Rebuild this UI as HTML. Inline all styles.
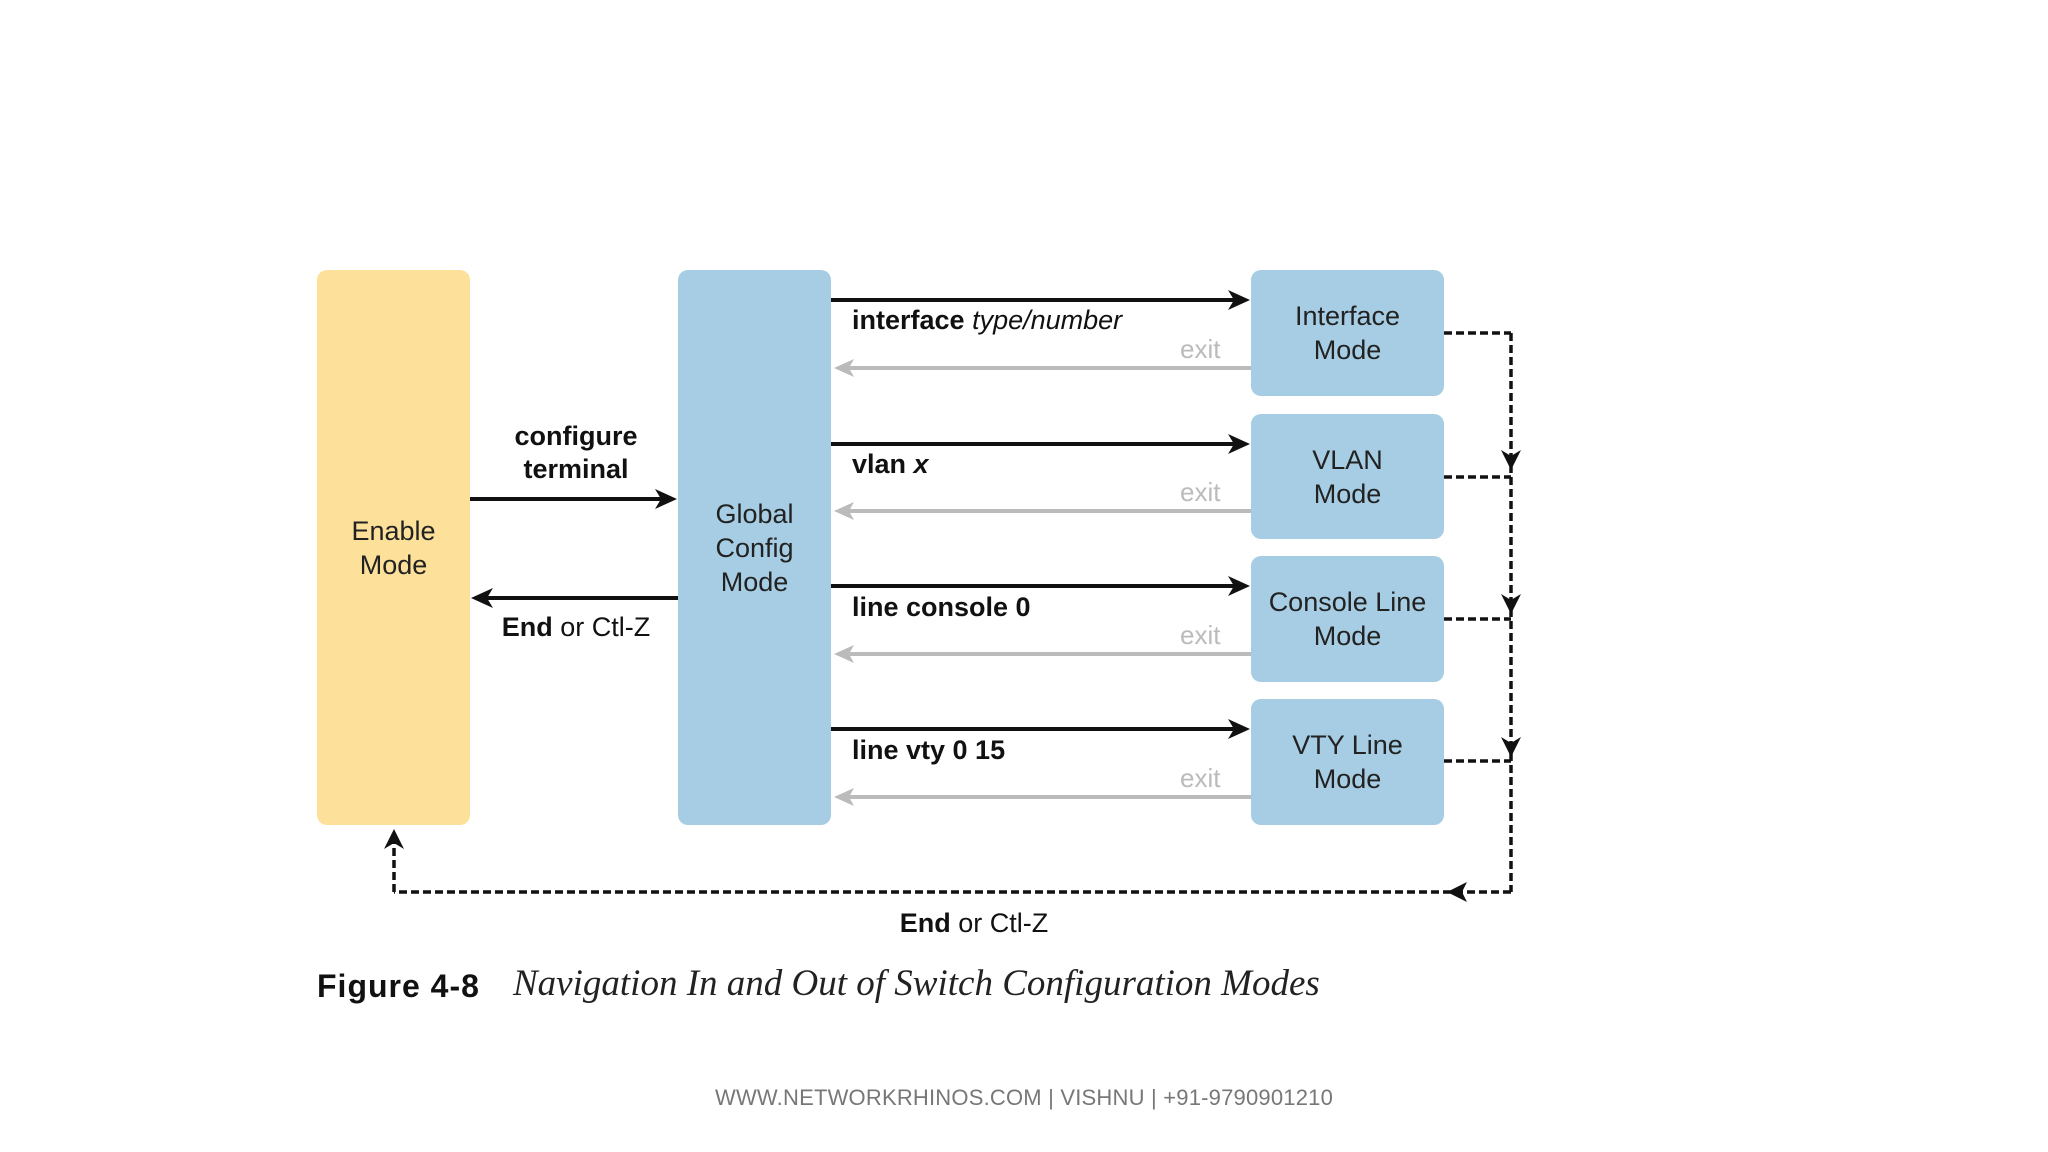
<!DOCTYPE html>
<html><head><meta charset="utf-8"><style>
html,body{margin:0;padding:0;background:#fff;}
body{width:2048px;height:1152px;position:relative;overflow:hidden;font-family:"Liberation Sans",sans-serif;}
.box{position:absolute;border-radius:10px;display:flex;align-items:center;justify-content:center;text-align:center;font-size:27px;color:#222;line-height:34px;}
.b{background:#a6cde3;}
.t{position:absolute;font-size:27px;color:#111;white-space:nowrap;}
.exit{position:absolute;font-size:26px;color:#bbb;}
</style></head><body>
<div class="box" style="left:317px;top:270px;width:153px;height:555px;background:#fde19b;">Enable<br>Mode</div>
<div class="box b" style="left:678px;top:270px;width:153px;height:555px;">Global<br>Config<br>Mode</div>
<div class="box b" style="left:1251px;top:270px;width:193px;height:126px;">Interface<br>Mode</div>
<div class="box b" style="left:1251px;top:414px;width:193px;height:125px;">VLAN<br>Mode</div>
<div class="box b" style="left:1251px;top:556px;width:193px;height:126px;">Console Line<br>Mode</div>
<div class="box b" style="left:1251px;top:699px;width:193px;height:126px;">VTY Line<br>Mode</div>

<svg width="2048" height="1152" style="position:absolute;left:0;top:0" xmlns="http://www.w3.org/2000/svg">
<g stroke="#111" stroke-width="4" fill="none">
<line x1="831" y1="300" x2="1240" y2="300"/><line x1="831" y1="444" x2="1240" y2="444"/>
<line x1="831" y1="586" x2="1240" y2="586"/><line x1="831" y1="729" x2="1240" y2="729"/>
<line x1="470" y1="499" x2="665" y2="499"/><line x1="483" y1="598" x2="678" y2="598"/>
</g>
<g fill="#111">
<path d="M1250,300 l-22,-10 l6,10 l-6,10z"/><path d="M1250,444 l-22,-10 l6,10 l-6,10z"/>
<path d="M1250,586 l-22,-10 l6,10 l-6,10z"/><path d="M1250,729 l-22,-10 l6,10 l-6,10z"/>
<path d="M677,499 l-22,-10 l6,10 l-6,10z"/><path d="M471,598 l22,-10 l-6,10 l6,10z"/>
</g>
<g stroke="#bbb" stroke-width="4" fill="none">
<line x1="845" y1="368" x2="1251" y2="368"/><line x1="845" y1="511" x2="1251" y2="511"/>
<line x1="845" y1="654" x2="1251" y2="654"/><line x1="845" y1="797" x2="1251" y2="797"/>
</g>
<g fill="#bbb">
<path d="M834,368 l20,-9 l-5,9 l5,9z"/><path d="M834,511 l20,-9 l-5,9 l5,9z"/>
<path d="M834,654 l20,-9 l-5,9 l5,9z"/><path d="M834,797 l20,-9 l-5,9 l5,9z"/>
</g>
<g stroke="#111" stroke-width="3.5" fill="none" stroke-dasharray="8,4">
<line x1="1444" y1="333" x2="1511" y2="333"/><line x1="1444" y1="477" x2="1511" y2="477"/>
<line x1="1444" y1="619" x2="1511" y2="619"/><line x1="1444" y1="761" x2="1511" y2="761"/>
<line x1="1511" y1="333" x2="1511" y2="892"/>
<line x1="1511" y1="892" x2="394" y2="892"/>
<line x1="394" y1="892" x2="394" y2="840"/>
</g>
<g fill="#111">
<path d="M1511,470 l-10,-20 l10,6 l10,-6z"/><path d="M1511,614 l-10,-20 l10,6 l10,-6z"/>
<path d="M1511,757 l-10,-20 l10,6 l10,-6z"/>
<path d="M1447,892 l20,-10 l-5,10 l5,10z"/>
<path d="M394,829 l-10,20 l10,-6 l10,6z"/>
</g>
</svg>

<div class="t" style="left:852px;top:305px;font-weight:bold;">interface <i style="font-weight:normal">type/number</i></div>
<div class="t" style="left:852px;top:449px;font-weight:bold;">vlan <i>x</i></div>
<div class="t" style="left:852px;top:592px;font-weight:bold;">line console 0</div>
<div class="t" style="left:852px;top:735px;font-weight:bold;">line vty 0 15</div>
<div class="exit" style="left:1180px;top:334px;">exit</div>
<div class="exit" style="left:1180px;top:477px;">exit</div>
<div class="exit" style="left:1180px;top:620px;">exit</div>
<div class="exit" style="left:1180px;top:763px;">exit</div>
<div class="t" style="left:476px;top:420px;width:200px;text-align:center;font-weight:bold;line-height:33px;">configure<br>terminal</div>
<div class="t" style="left:476px;top:612px;width:200px;text-align:center;"><b>End</b> or Ctl-Z</div>
<div class="t" style="left:874px;top:908px;width:200px;text-align:center;"><b>End</b> or Ctl-Z</div>
<div class="t" style="left:317px;top:968px;font-size:32px;font-weight:bold;letter-spacing:1px;">Figure 4-8</div>
<div class="t" style="left:513px;top:962px;font-size:37px;font-style:italic;font-family:'Liberation Serif',serif;color:#222;">Navigation In and Out of Switch Configuration Modes</div>
<div class="t" style="left:0;width:2048px;top:1085px;text-align:center;font-size:22px;color:#777;letter-spacing:0.2px;">WWW.NETWORKRHINOS.COM | VISHNU | +91-9790901210</div>
</body></html>
